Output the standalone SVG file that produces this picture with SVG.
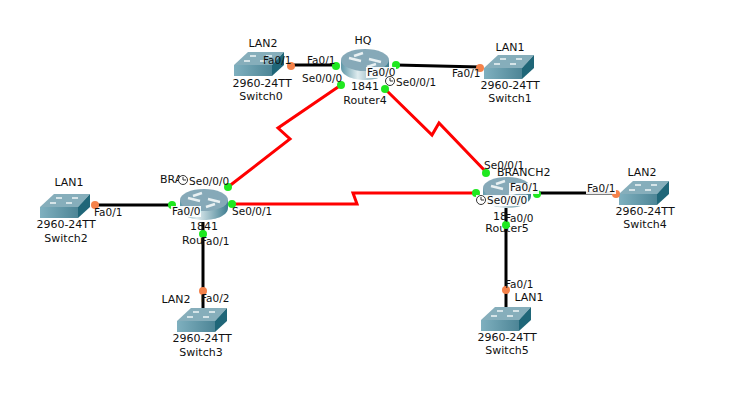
<svg xmlns="http://www.w3.org/2000/svg" xmlns:xlink="http://www.w3.org/1999/xlink" width="738" height="408" viewBox="0 0 738 408">
<style>
text{font-family:"DejaVu Sans",Verdana,sans-serif;font-size:10.5px;fill:#111}
.n{font-size:11px}
.m{text-anchor:middle}
.eth{fill:none;stroke:#000;stroke-width:3}
.ser{fill:none;stroke:#f00;stroke-width:3}
.g{fill:#1fe81f}
.o{fill:#f5824a}
.bg{fill:#fff;fill-opacity:.92}
</style>
<defs>
<linearGradient id="bf" x1="0" x2="1" y1="0" y2="0"><stop offset="0" stop-color="#7fb0bf"/><stop offset="1" stop-color="#4d8596"/></linearGradient>
<linearGradient id="rb" x1="0" x2="1" y1="0" y2="0"><stop offset="0" stop-color="#5f97a8"/><stop offset=".35" stop-color="#dfecef"/><stop offset="1" stop-color="#3f7d90"/></linearGradient>
<g id="sw">
<polygon points="0,13 14,0 50,0 38,13" fill="#86aebb"/>
<polygon points="38,13 50,0 50,13 38,24" fill="#1f6678"/>
<rect x="0" y="13" width="38" height="11" fill="url(#bf)"/>
<g fill="#d5e4e8"><rect x="16" y="3" width="6" height="2"/><rect x="32" y="3" width="6" height="2"/><rect x="10" y="8" width="6" height="2"/><rect x="26" y="8" width="6" height="2"/></g>
</g>
<g id="rt">
<path d="M0,11V19C0,26 11,31 24,31S48,26 48,19V11Z" fill="url(#rb)"/>
<ellipse cx="24" cy="11" rx="24" ry="11" fill="#86a9b8"/>
<path d="M8,9l12,3M40,13l-12,-3M22,4l-9,3M26,18l9,-3" stroke="#e8f0f2" stroke-width="2.500" fill="none"/>
</g>
<g id="ck"><circle cx="0" cy="0" r="4.500" fill="#fff" stroke="#333"/><path d="M0,-3V0H3" fill="none" stroke="#333"/></g>
</defs>

<g id="connectors">
<path class="eth" d="M291,65H336"/>
<path class="eth" d="M396,65L480,67"/>
<path class="eth" d="M95,205H172"/>
<path class="eth" d="M203,222V310"/>
<path class="eth" d="M537,193H616"/>
<path class="eth" d="M506,205V310"/>
<path class="ser" d="M341,85L278,128L290,139L228,187"/>
<path class="ser" d="M385,89L432,135L439,123L487,173"/>
<path class="ser" d="M232,204H357L353,193H478"/>
</g>

<g id="Router4"><use xlink:href="#rt" x="341" y="49"/><text class="m n" x="363" y="44">HQ</text><text class="m n" x="365" y="90">1841</text><text class="m n" x="365" y="104">Router4</text></g>
<g id="Router3"><use xlink:href="#rt" x="180" y="189"/><text class="n" x="160" y="183">BRA</text><text class="m n" x="204" y="230">1841</text><text class="n" x="182" y="244">Rou</text></g>
<g id="Router5"><use xlink:href="#rt" x="483" y="177"/><text class="n" x="497" y="176">BRANCH2</text><text class="n" x="493" y="220">18</text><text class="m n" x="507" y="232">Router5</text></g>

<g id="Switch0"><use xlink:href="#sw" x="234" y="52"/><text class="m n" x="263" y="47">LAN2</text><text class="m n" x="262" y="87">2960-24TT</text><text class="m n" x="261" y="100">Switch0</text></g>
<g id="Switch1"><use xlink:href="#sw" x="484" y="55"/><text class="m n" x="510" y="51">LAN1</text><text class="m n" x="510" y="89">2960-24TT</text><text class="m n" x="510" y="102">Switch1</text></g>
<g id="Switch2"><use xlink:href="#sw" x="40" y="194"/><text class="m n" x="69" y="186">LAN1</text><text class="m n" x="66" y="228">2960-24TT</text><text class="m n" x="66" y="242">Switch2</text></g>
<g id="Switch3"><use xlink:href="#sw" x="177" y="308"/><text class="m n" x="176" y="303">LAN2</text><text class="m n" x="202" y="342">2960-24TT</text><text class="m n" x="201" y="356">Switch3</text></g>
<g id="Switch4"><use xlink:href="#sw" x="619" y="181"/><text class="m n" x="642" y="176">LAN2</text><text class="m n" x="645" y="215">2960-24TT</text><text class="m n" x="645" y="228">Switch4</text></g>
<g id="Switch5"><use xlink:href="#sw" x="481" y="307"/><text class="m n" x="529" y="301">LAN1</text><text class="m n" x="507" y="341">2960-24TT</text><text class="m n" x="507" y="354">Switch5</text></g>

<g id="ports">
<circle class="o" cx="291" cy="66" r="4"/><circle class="g" cx="336" cy="66" r="4"/>
<circle class="g" cx="396" cy="65" r="4"/><circle class="o" cx="480" cy="68" r="4"/>
<circle class="g" cx="341" cy="85" r="4"/><circle class="g" cx="385" cy="89" r="4"/>
<circle class="o" cx="95" cy="205" r="4"/><circle class="g" cx="172" cy="205" r="4"/>
<circle class="g" cx="228" cy="187" r="4"/><circle class="g" cx="232" cy="204" r="4"/>
<circle class="g" cx="203" cy="234" r="4"/><circle class="o" cx="203" cy="291" r="4"/>
<circle class="g" cx="486" cy="173" r="4"/><circle class="g" cx="476" cy="193" r="4"/>
<circle class="g" cx="537" cy="194" r="4"/><circle class="o" cx="616" cy="194" r="4"/>
<circle class="g" cx="506" cy="225" r="4"/><circle class="o" cx="506" cy="290" r="4"/>
</g>

<g id="port-labels">
<text x="263" y="64">Fa0/1</text><text x="307" y="64">Fa0/1</text>
<text x="302" y="82">Se0/0/0</text>
<rect class="bg" x="366" y="67" width="30" height="11"/><text x="367" y="76">Fa0/0</text>
<use xlink:href="#ck" x="390" y="81"/><text x="396" y="86">Se0/0/1</text>
<text x="452" y="77">Fa0/1</text>
<text x="94" y="216">Fa0/1</text>
<rect class="bg" x="171" y="206" width="30" height="11"/><text x="172" y="215">Fa0/0</text>
<use xlink:href="#ck" x="183" y="180"/><text x="189" y="185">Se0/0/0</text>
<text x="232" y="215">Se0/0/1</text>
<text x="201" y="245">Fa0/1</text>
<text x="201" y="302">Fa0/2</text>
<text x="484" y="169">Se0/0/1</text>
<rect class="bg" x="509" y="183" width="30" height="11"/><text x="510" y="191">Fa0/1</text>
<rect class="bg" x="476" y="195" width="52" height="11"/><use xlink:href="#ck" x="481" y="200"/><text x="487" y="204">Se0/0/0</text>
<text x="505" y="222">Fa0/0</text>
<rect class="bg" x="586" y="183" width="30" height="11"/><text x="587" y="192">Fa0/1</text>
<text x="505" y="288">Fa0/1</text>
</g>
</svg>
